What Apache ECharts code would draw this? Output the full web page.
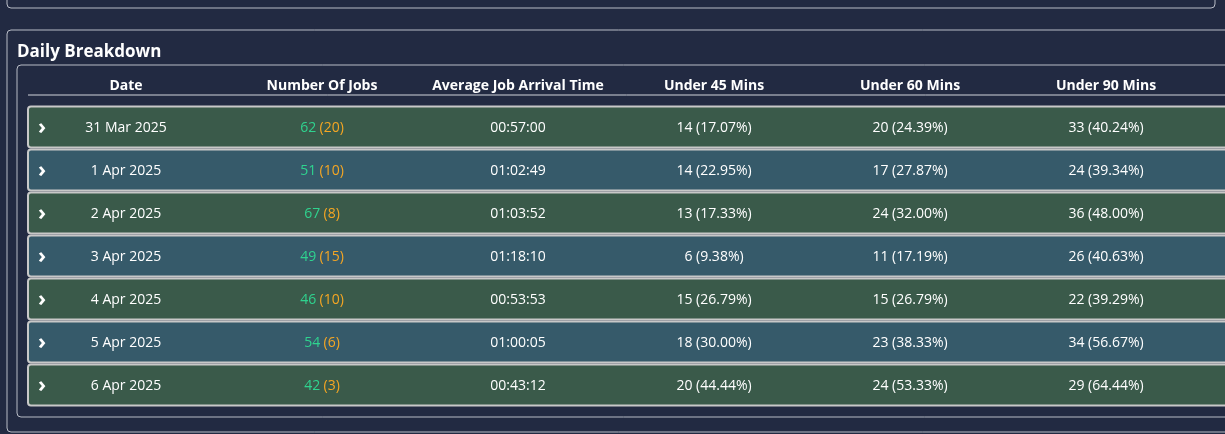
<!DOCTYPE html><html><head><meta charset="utf-8">
<script src="https://cdn.jsdelivr.net/npm/echarts@6/dist/echarts.min.js"></script>
<style>html,body{margin:0;background:#222a42;}#c{width:1225px;height:434px;}</style></head><body><div id="c"></div>
<script>
const columns=['Date','Number Of Jobs','Average Job Arrival Time','Under 45 Mins','Under 60 Mins','Under 90 Mins'];
const dates=['31 Mar 2025','1 Apr 2025','2 Apr 2025','3 Apr 2025','4 Apr 2025','5 Apr 2025','6 Apr 2025'];
const jobs=[62,51,67,49,46,54,42];
const jobsExtra=[20,10,8,15,10,6,3];
const avgArrival=['00:57:00','01:02:49','01:03:52','01:18:10','00:53:53','01:00:05','00:43:12'];
const under45=['14 (17.07%)','14 (22.95%)','13 (17.33%)','6 (9.38%)','15 (26.79%)','18 (30.00%)','20 (44.44%)'];
const under60=['20 (24.39%)','17 (27.87%)','24 (32.00%)','11 (17.19%)','15 (26.79%)','23 (38.33%)','24 (53.33%)'];
const under90=['33 (40.24%)','24 (39.34%)','36 (48.00%)','26 (40.63%)','22 (39.29%)','34 (56.67%)','29 (64.44%)'];
const rowColors=['#3a5a4a','#365a6a'];
const font='"Open Sans","Noto Sans",sans-serif';
const chart=echarts.init(document.getElementById('c'));
chart.setOption({
  backgroundColor:'#222a42',
  title:{text:'Daily Breakdown',left:12,top:39,textStyle:{color:'#fff',fontSize:17,fontWeight:'bold',fontFamily:font}},
  graphic:[
    {type:'rect',shape:{x:7,y:-20,width:1208,height:28,r:4},style:{fill:'none',stroke:'#b8bcc6',lineWidth:1}},
    {type:'rect',shape:{x:7,y:30,width:1240,height:402,r:4},style:{fill:'none',stroke:'#b8bcc6',lineWidth:1}},
    {type:'rect',shape:{x:17,y:65,width:1230,height:352,r:4},style:{fill:'none',stroke:'#b8bcc6',lineWidth:1}},
    {type:'line',shape:{x1:28,y1:95,x2:1225,y2:95},style:{stroke:'#d0d3da',lineWidth:1}}
  ],
  grid:{left:28,width:1176,top:106,height:301},
  xAxis:{type:'category',data:columns,position:'top',axisLine:{show:false},axisTick:{show:false},
    axisLabel:{interval:0,margin:13,color:'#fff',fontSize:14,fontWeight:'bold',fontFamily:font}},
  yAxis:{type:'category',data:dates,inverse:true,show:false},
  series:[{type:'custom',data:dates.map((d,i)=>i),
    renderItem:function(params,api){
      const i=api.value(0);
      const c0=api.coord([0,i]);const sz=api.size([1,1]);
      const cy=c0[1];
      const x0=c0[0]-sz[0]/2;
      const children=[{type:'rect',shape:{x:x0,y:cy-21,width:1250,height:41,r:3},style:{fill:rowColors[i%2],stroke:'#c8c8c8',lineWidth:2}},
        {type:'text',style:{text:'\u203A',x:x0+14,y:cy,fill:'#fff',font:'bold 22px '+font,align:'center',verticalAlign:'middle'}}];
      const vals=[dates[i],null,avgArrival[i],under45[i],under60[i],under90[i]];
      for(let k=0;k<6;k++){
        const p=api.coord([k,i]);
        if(k===1){
          children.push({type:'text',style:{x:p[0],y:cy+1,align:'center',verticalAlign:'middle',
            text:'{g|'+jobs[i]+'} {o|('+jobsExtra[i]+')}',
            rich:{g:{fill:'#2fd38f',font:'14px '+font},o:{fill:'#f5a623',font:'14px '+font}}}});
        }else{
          children.push({type:'text',style:{text:vals[k],x:p[0],y:cy+1,align:'center',verticalAlign:'middle',fill:'#fff',font:'14px '+font}});
        }
      }
      return {type:'group',children:children};
    }}]
});
</script></body></html>
